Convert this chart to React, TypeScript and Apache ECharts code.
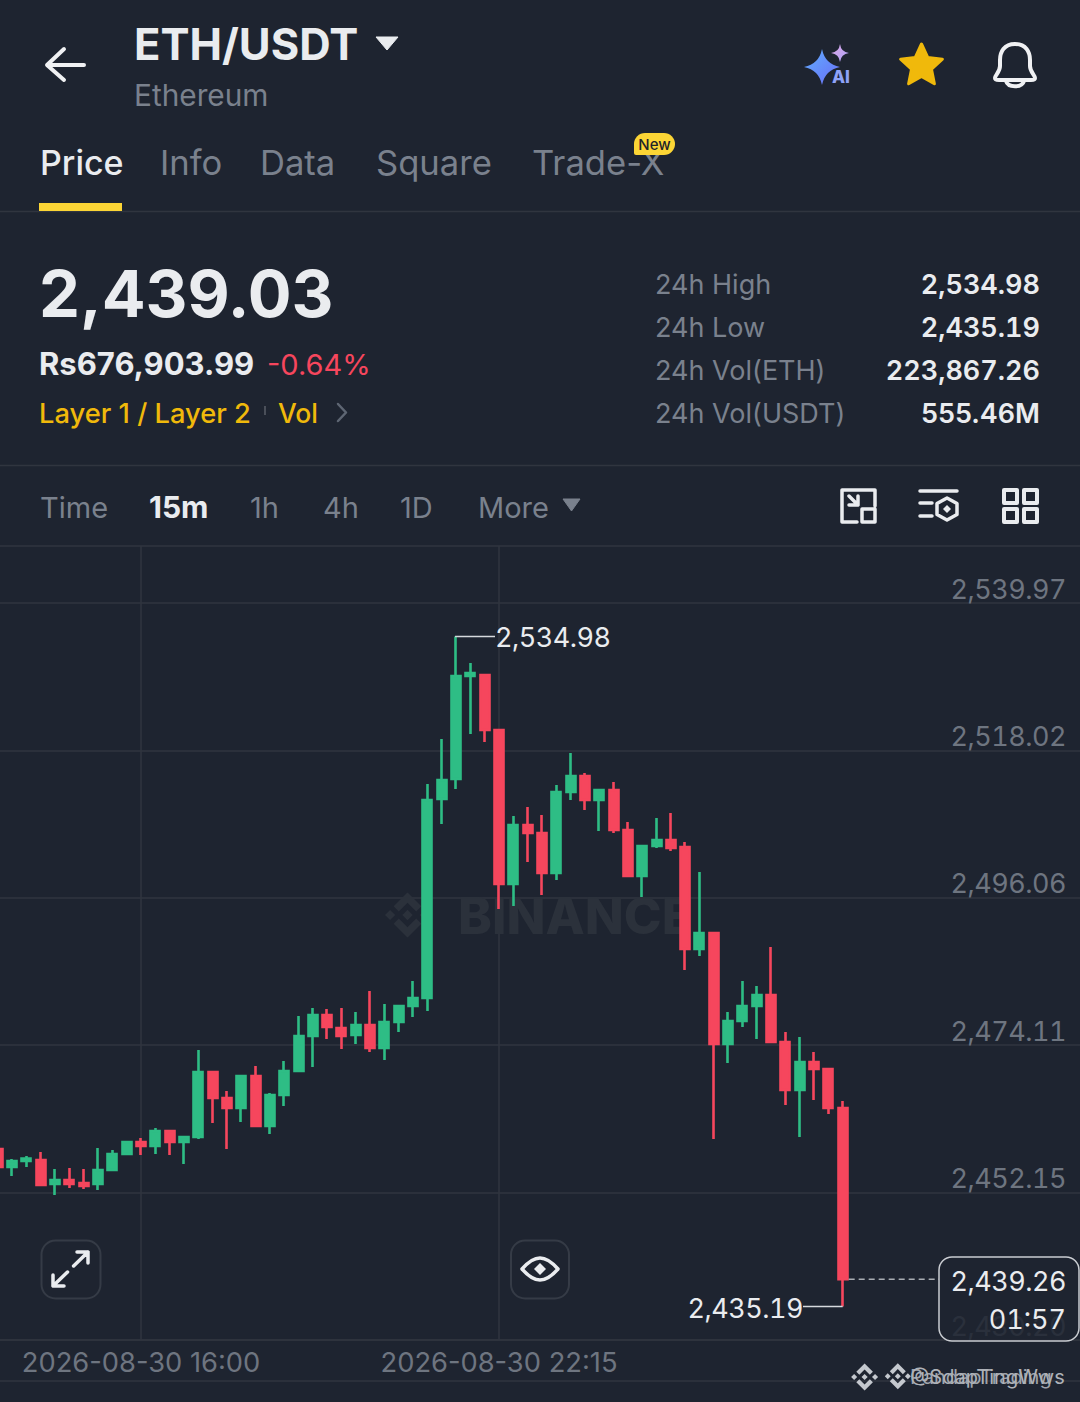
import React, { useEffect, useRef } from "react";
import * as echarts from "echarts";

const opens = [2458.65,2455.97,2456.86,2457.01,2453.44,2454.03,2453.58,2453.44,2455.52,2457.90,2459.69,2459.10,2461.33,2459.69,2460.44,2470.12,2466.24,2464.76,2469.52,2462.07,2466.69,2470.27,2475.48,2478.61,2476.67,2475.63,2477.12,2473.69,2477.56,2479.95,2481.14,2510.78,2513.76,2529.10,2529.25,2521.05,2498.12,2506.91,2505.71,2499.76,2511.82,2514.20,2510.63,2512.12,2506.16,2499.31,2503.78,2504.67,2503.63,2488.44,2490.82,2474.29,2477.71,2479.95,2481.59,2474.59,2467.44,2471.61,2470.56,2464.76];
const closes = [2455.97,2456.86,2457.23,2453.29,2454.03,2453.44,2453.14,2455.52,2457.90,2459.69,2459.10,2461.33,2459.69,2460.44,2470.12,2466.24,2464.76,2469.52,2462.07,2466.69,2470.27,2475.48,2478.61,2476.82,2475.48,2477.12,2473.69,2477.56,2479.95,2481.14,2510.63,2513.61,2529.10,2529.54,2521.05,2498.12,2506.91,2505.71,2499.76,2511.82,2514.20,2510.63,2512.12,2506.16,2499.31,2503.78,2504.67,2503.48,2488.44,2490.82,2474.29,2477.71,2479.95,2481.59,2474.59,2467.44,2471.61,2470.56,2464.76,2439.26];
const lows = [2455.82,2454.63,2455.97,2453.14,2451.80,2452.84,2452.69,2452.54,2455.37,2457.90,2457.76,2457.90,2457.76,2456.41,2460.14,2462.52,2458.65,2462.67,2462.07,2460.88,2465.05,2470.27,2470.86,2475.03,2473.54,2474.29,2473.10,2471.90,2476.07,2478.31,2479.20,2507.05,2512.27,2520.46,2519.27,2494.39,2494.84,2501.39,2496.48,2498.71,2510.63,2509.14,2506.01,2505.71,2499.31,2496.18,2503.48,2503.03,2485.31,2487.39,2460.14,2471.46,2476.82,2475.03,2474.59,2465.20,2460.44,2465.95,2463.86,2435.19];
const highs = [2458.80,2457.16,2457.61,2458.20,2455.67,2455.82,2455.67,2458.80,2458.50,2459.84,2460.29,2461.78,2461.33,2460.44,2473.39,2470.12,2467.29,2469.67,2471.01,2466.99,2471.76,2478.46,2479.65,2479.50,2479.65,2479.05,2482.18,2480.24,2480.10,2483.67,2513.01,2519.71,2534.98,2531.03,2529.25,2521.05,2508.25,2509.59,2508.39,2512.86,2517.63,2514.65,2512.12,2513.31,2507.35,2503.78,2507.95,2508.69,2504.37,2499.90,2490.82,2479.05,2483.67,2482.93,2488.73,2476.07,2475.33,2473.10,2470.56,2465.80];

const priceTicks = [2430.2, 2452.15, 2474.11, 2496.06, 2518.02, 2539.97];
const timeLabelIndexes = [10, 35];
const highIndex = 32;
const highPrice = 2534.98;
const lowIndex = 59;
const lowPrice = 2435.19;
const lastPrice = 2439.26;
const countdown = "01:57";
const tabs = ["Price", "Info", "Data", "Square", "Trade-X"];
const intervals = ["Time", "15m", "1h", "4h", "1D", "More"];
const statLabels = ["24h High", "24h Low", "24h Vol(ETH)", "24h Vol(USDT)"];
const statValues = ["2,534.98", "2,435.19", "223,867.26", "555.46M"];

const categories: string[] = [];
for (let i = 0; i < 77; i++) {
  const total = 13 * 60 + 30 + i * 15;
  const day = 30 + Math.floor(total / 1440);
  const m = total % 1440;
  categories.push(
    `2026-08-${day} ${String(Math.floor(m / 60)).padStart(2, "0")}:${String(m % 60).padStart(2, "0")}`
  );
}

const FONT = "Inter, 'Noto Sans', sans-serif";
const BG = "#1E2430";
const LINE = "#30353F";
const GRAY = "#7A818D";
const AXIS = "#6E7580";
const WHITE = "#EAECEF";
const GREEN = "#2EBD85";
const RED = "#F6465D";
const YELLOW = "#F0B90B";

const BNB =
  "M12.116 14.404L16 10.52l3.886 3.886 2.26-2.26L16 6l-6.144 6.144 2.26 2.26zM6 16l2.26-2.26L10.52 16l-2.26 2.26L6 16zm6.116 1.596L16 21.48l3.886-3.886 2.26 2.259L16 26l-6.144-6.144-.003-.003 2.263-2.257zM21.48 16l2.26-2.26L26 16l-2.26 2.26L21.48 16zm-3.188-.002h.002V16L16 18.294l-2.291-2.29-.004-.004.004-.003.401-.402.195-.195L16 13.706l2.293 2.293z";
const SHAPES: Record<string, string> = {
  bnbLogo: BNB,
  backIcon: "M84 65H48M64 49L47 65L64 80",
  bellIcon:
    "M1015 44C1004 44 1000 52 1000 60L1000 66C1000 72 995 75 995 78C995 80 997 80 999 80L1031 80C1033 80 1035 80 1035 78C1035 75 1030 72 1030 66L1030 60C1030 52 1026 44 1015 44ZM1006 81C1008 88 1022 88 1024 81",
  bigSpark: "M822 49Q825 64 840 67Q825 70 822 85Q819 70 804 67Q819 64 822 49Z",
  smallSpark: "M840 44Q841 52 849 53Q841 54 840 62Q839 54 831 53Q839 52 840 44Z",
  splitIcon:
    "M875 506V490H842V522H857M849 496L858 505M858 496V505H849M862 509H875V522H862Z",
  indicatorIcon:
    "M920 491H957M920 503H932M920 516H932M947 498L957 503.5V514.5L947 520L937 514.5V503.5Z",
  gridIcon:
    "M1004 490H1017V503H1004ZM1024 490H1037V503H1024ZM1004 509H1017V522H1004ZM1024 509H1037V522H1024Z",
  expandIcon:
    "M73.6 1266L88 1252M77 1252H88V1263M67.5 1272L53 1286M53 1275V1286H64",
  eyeIcon:
    "M522 1269C530 1260 535 1258 540 1258C545 1258 550 1260 558 1269C550 1278 545 1280 540 1280C535 1280 530 1278 522 1269Z",
  chevronIcon: "M338 404L346 412.5L338 421",
};
Object.entries(SHAPES).forEach(([k, d]) =>
  echarts.graphic.registerShape(k, echarts.graphic.extendPath(d, {}))
);

function T(text: string, x: number, y: number, size: number, fill: string, weight = 400, align = "left", z = 10) {
  return {
    type: "text",
    z,
    style: {
      text, x, y, fill,
      font: `${weight} ${size}px ${FONT}`,
      align, verticalAlign: "middle",
      textAlign: align, textVerticalAlign: "middle",
    },
  };
}
const L = (x1: number, y1: number, x2: number, y2: number, stroke = LINE, lineWidth = 1.5, z = 1, lineDash?: number[]) => ({
  type: "line", z, shape: { x1, y1, x2, y2 }, style: { stroke, lineWidth, lineDash },
});
const S = (type: string, stroke: string, lineWidth = 4) => ({
  type, x: 0, y: 0, z: 10,
  style: { stroke, lineWidth, fill: "none", lineCap: "round", lineJoin: "round" },
});
const F = (type: string, x: number, y: number, scale: number, fill: any, z = 10) => ({
  type, x, y, scaleX: scale, scaleY: scale, z, style: { fill },
});
const P = (points: number[][], fill: string, stroke?: string, lineWidth = 0) => ({
  type: "polygon", z: 10, shape: { points }, style: { fill, stroke, lineWidth, lineJoin: "round" },
});

export default function App() {
  const ref = useRef<HTMLDivElement>(null);
  useEffect(() => {
    document.body.style.margin = "0";
    const chart = echarts.init(ref.current!, null, { renderer: "svg" });
    chart.setOption({
      animation: false,
      backgroundColor: BG,
      grid: { left: -2.2, top: 546, width: 1088.32, height: 794, containLabel: false, outerBoundsMode: "none" },
      xAxis: {
        type: "category",
        data: categories,
        boundaryGap: false,
        axisLine: { show: true, lineStyle: { color: LINE, width: 1.5 } },
        axisTick: { show: false },
        axisLabel: {
          interval: (i: number) => timeLabelIndexes.includes(i),
          color: AXIS, fontSize: 27.3, fontFamily: FONT, margin: 9, hideOverlap: false,
        },
        splitLine: {
          show: true,
          interval: (i: number) => timeLabelIndexes.includes(i),
          lineStyle: { color: LINE, width: 1.5 },
        },
      },
      yAxis: {
        type: "value",
        position: "right",
        min: 2430.2,
        max: 2548.46,
        scale: true,
        axisLine: { show: false },
        axisTick: { show: false, customValues: priceTicks },
        axisLabel: {
          inside: true,
          customValues: priceTicks,
          margin: 20,
          color: AXIS,
          fontSize: 27,
          lineHeight: 28,
          fontFamily: FONT,
          verticalAlign: "bottom",
          formatter: (v: number) =>
            v.toLocaleString("en-US", { minimumFractionDigits: 2, maximumFractionDigits: 2 }),
        },
        splitLine: { show: true, lineStyle: { color: LINE, width: 1.5 } },
      },
      series: [
        {
          type: "candlestick",
          clip: false,
          barWidth: 9.5,
          itemStyle: {
            color: GREEN, color0: RED, borderColor: GREEN, borderColor0: RED, borderWidth: 2.6,
          },
          data: opens.map((o, i) => [o, closes[i], lows[i], highs[i]]),
        },
      ],
    });

    const toPx = (i: number, v: number) => chart.convertToPixel({ gridIndex: 0 }, [i, v]) as number[];
    const hi = toPx(highIndex, highPrice);
    const lo = toPx(lowIndex, lowPrice);
    const la = toPx(lowIndex, lastPrice);
    const fmt = (v: number) => v.toLocaleString("en-US", { minimumFractionDigits: 2 });

    const tabX = [40, 160, 260, 376, 532];
    const ivX = [40, 149, 250, 323, 400, 478];
    const statY = [284, 327, 370, 413];

    chart.setOption({
      graphic: [
        // header
        S("backIcon", "#F0F1F3", 4),
        T("ETH/USDT", 134, 44, 43.5, WHITE, 700),
        P([[376, 37], [398, 37], [387, 50]], WHITE, WHITE, 1),
        T("Ethereum", 134, 94.5, 29.8, GRAY),
        {
          ...F("bigSpark", 0, 0, 1, new echarts.graphic.LinearGradient(0, 0, 1, 1, [
            { offset: 0, color: "#60B0FF" }, { offset: 1, color: "#6A6CF5" },
          ])),
        },
        {
          ...F("smallSpark", 0, 0, 1, new echarts.graphic.LinearGradient(0, 0, 1, 1, [
            { offset: 0, color: "#E0A8E8" }, { offset: 1, color: "#A9A0F5" },
          ])),
        },
        T("AI", 832, 77, 17, "#8EA2F8", 800),
        P([[921.5, 44], [927.7, 57.5], [942.4, 59.2], [931.5, 69.2], [934.4, 83.8], [921.5, 76.5], [908.6, 83.8], [911.5, 69.2], [900.6, 59.2], [915.3, 57.5]], YELLOW, YELLOW, 3),
        S("bellIcon", "#F0F1F3", 4),

        // tabs
        ...tabs.map((t, i) => T(t, tabX[i], 162, i === 0 ? 34 : 34.6, i === 0 ? WHITE : GRAY, i === 0 ? 500 : 400)),
        { type: "rect", z: 10, shape: { x: 39, y: 203, width: 83, height: 8 }, style: { fill: "#FCD535" } },
        { type: "rect", z: 11, shape: { x: 634, y: 133, width: 41, height: 22, r: [11, 11, 11, 2] }, style: { fill: "#FCD535" } },
        T("New", 654.5, 144, 15, "#1E2329", 500, "center", 12),
        L(0, 211.5, 1080, 211.5),

        // price block
        T("2,439.03", 39, 293, 65, WHITE, 700),
        T("Rs676,903.99", 39, 363, 31, WHITE, 700),
        T("-0.64%", 267, 364, 29, RED, 400),
        T("Layer 1 / Layer 2", 39, 413, 27.3, YELLOW, 500),
        L(265, 406, 265, 415, "#4A4F59", 2, 10),
        T("Vol", 278, 413, 26.5, YELLOW, 500),
        S("chevronIcon", "#5E6673", 2.5),
        ...statLabels.map((t, i) => T(t, 655, statY[i], 27, GRAY)),
        ...statValues.map((t, i) => T(t, 1040, statY[i], 27, WHITE, 600, "right")),
        L(0, 465.5, 1080, 465.5),

        // interval bar
        ...intervals.map((t, i) => T(t, ivX[i], 507, i === 1 ? 30 : 29, i === 1 ? WHITE : GRAY, i === 1 ? 700 : 400)),
        P([[563, 499], [580, 499], [571.5, 511]], GRAY, GRAY, 1),
        S("splitIcon", "#EAECEF", 3.5),
        S("indicatorIcon", "#EAECEF", 3.5),
        P([[947, 505], [951, 509], [947, 513], [943, 509]], "#EAECEF"),
        S("gridIcon", "#EAECEF", 4),
        L(0, 546, 1080, 546),
        L(0, 1381, 1080, 1381),

        // watermark
        F("bnbLogo", 371.5, 879, 2.25, "#2B313B", 0),
        T("BINANCE", 458, 915, 51, "#2B313B", 800, "left", 0),

        // buttons
        { type: "rect", z: 10, shape: { x: 41.5, y: 1240.5, width: 59, height: 58, r: 14 }, style: { fill: BG, stroke: "#353B46", lineWidth: 2 } },
        S("expandIcon", "#EAECEF", 3.5),
        { type: "rect", z: 10, shape: { x: 511, y: 1240.5, width: 58, height: 58, r: 14 }, style: { fill: BG, stroke: "#353B46", lineWidth: 2 } },
        S("eyeIcon", "#EAECEF", 3.5),
        P([[540, 1263], [546, 1269], [540, 1275], [534, 1269]], "#EAECEF"),

        // high / low markers
        L(hi[0] - 1, hi[1], 495, hi[1], "#D6D9DD", 1.5, 5),
        T(fmt(highPrice), 495, hi[1] + 1, 27, WHITE, 400),
        L(lo[0], lo[1], 803, lo[1], "#D6D9DD", 1.5, 5),
        T(fmt(lowPrice), 803, lo[1] + 2, 27, WHITE, 400, "right"),

        // last price
        L(la[0] + 6, la[1], 939, la[1], "#A9ADB3", 1.5, 5, [6, 4]),
        { type: "rect", z: 20, shape: { x: 939, y: 1257, width: 140, height: 84, r: 13 }, style: { fill: "rgba(30,36,48,0.85)", stroke: "#C9CCD1", lineWidth: 1.5 } },
        T(fmt(lastPrice), 1066, 1281, 27, WHITE, 400, "right", 21),
        T(countdown, 1066, 1319, 27, WHITE, 400, "right", 21),

        // bottom watermark
        F("bnbLogo", 843, 1355.4, 1.35, "#C4C8CE", 15),
        F("bnbLogo", 877, 1355.4, 1.3, "#C4C8CE", 15),
        T("PandapTrading", 910, 1377, 20, "#9EA3AB", 400, "left", 15),
        T("@SdapTingWws", 910, 1377, 20, "#AEB2B8", 400, "left", 15),
      ],
    });

    // Price strings use tabular digits, as in the reference.
    ref.current!.querySelectorAll("text").forEach((t) => {
      const el = t as unknown as SVGTextElement;
      const s = el.textContent || "";
      if (s === countdown) {
        el.style.fontFeatureSettings = '"tnum"';
        return;
      }
      if (!/^[\d,]+\.\d\d$/.test(s) || parseFloat(el.style.fontSize) > 30) return;
      el.style.fontFeatureSettings = '"tnum"';
      if (el.style.fontWeight !== "600") el.style.letterSpacing = "-0.5px";
    });
    return () => chart.dispose();
  }, []);
  return <div ref={ref} style={{ position: "absolute", left: 0, top: 0, width: 1080, height: 1402 }} />;
}
